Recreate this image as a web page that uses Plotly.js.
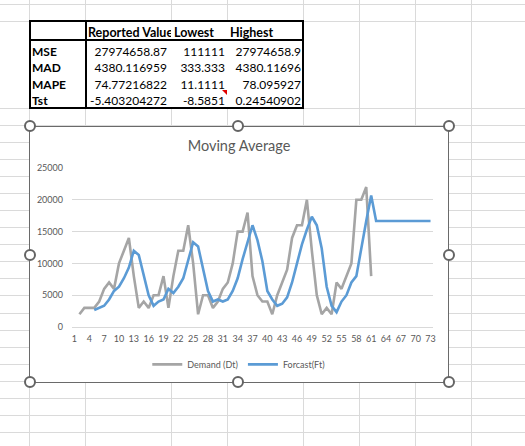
<!DOCTYPE html>
<html>
<head>
<meta charset="utf-8">
<script src="https://cdn.plot.ly/plotly-3.0.1.min.js"></script>
<style>
html,body{margin:0;padding:0;background:#fff;width:525px;height:446px;overflow:hidden;}
body{position:relative;font-family:Lato,"Liberation Sans",sans-serif;}
.gh{position:absolute;left:0;width:525px;height:1px;background:#dadada;}
.gv{position:absolute;top:0;width:1px;height:446px;background:#dadada;}
#table{position:absolute;left:29px;top:20px;width:275px;height:89px;background:#fff;border:2px solid #000;box-sizing:border-box;}
.cell{position:absolute;height:17px;font-size:12px;line-height:14px;color:#000;white-space:nowrap;overflow:hidden;display:flex;align-items:flex-end;}
.b{font-weight:bold;}
.hd{font-size:12.5px;}
.r{justify-content:flex-end;}
#chartbox{position:absolute;left:29px;top:126px;width:420px;height:257px;background:#fff;border:1px solid #6a6a6a;box-sizing:border-box;}
#chart{position:absolute;left:0;top:0;width:418px;height:255px;}
.handle{position:absolute;width:12px;height:12px;border-radius:50%;border:2px solid #646464;background:#fff;box-sizing:border-box;}
#comment{position:absolute;left:222px;top:90px;width:0;height:0;border-top:5px solid #e00000;border-left:5px solid transparent;}
</style>
</head>
<body>
<div id="grid"></div>
<div id="table"></div>
<div id="comment"></div>
<div id="chartbox"><div id="chart"></div></div>
<div id="handles"></div>
<script>
// ---------- data ----------
const rowLabels = ["MSE", "MAD", "MAPE", "Tst"];
const colHeaders = ["Reported Value", "Lowest", "Highest"];
const reportedValue = ["27974658.87", "4380.116959", "74.77216822", "-5.403204272"];
const lowestValue = ["111111", "333.333", "11.1111", "-8.5851"];
const highestValue = ["27974658.9", "4380.11696", "78.095927", "0.24540902"];

const periods = [1,2,3,4,5,6,7,8,9,10,11,12,13,14,15,16,17,18,19,20,21,22,23,24,25,26,27,28,29,30,31,32,33,34,35,36,37,38,39,40,41,42,43,44,45,46,47,48,49,50,51,52,53,54,55,56,57,58,59,60,61,62,63,64,65,66,67,68,69,70,71,72,73];
const demand = [null,2000,3000,3000,3000,4000,6000,7000,6000,10000,12000,14000,8000,
  3000,4000,3000,5000,5000,8000,3000,8000,12000,12000,16000,10000,
  2000,5000,5000,3000,4000,6000,7000,10000,15000,15000,18000,8000,
  5000,4000,4000,2000,5000,7000,9000,14000,16000,16000,20000,12000,
  5000,2000,3000,2000,7000,6000,8000,10000,20000,20000,22000,8000];
const forecast = [null,null,null,null,2666.67,3000,3333.33,4333.33,5666.67,6333.33,7666.67,9333.33,12000,
  11333.33,8333.33,5000,3333.33,4000,4333.33,6000,5333.33,6333.33,7666.67,10666.67,13333.33,
  12666.67,9333.33,5666.67,4000,4333.33,4000,4333.33,5666.67,7666.67,10666.67,13333.33,16000,
  13666.67,10333.33,5666.67,4333.33,3333.33,3666.67,4666.67,7000,10000,13000,15333.33,17333.33,
  16000,12333.33,6333.33,3333.33,2333.33,4000,5000,7000,8000,12666.67,16666.67,20666.67,
  16666.67,16666.67,16666.67,16666.67,16666.67,16666.67,16666.67,16666.67,16666.67,16666.67,16666.67,16666.67];
const xTickVals = [1,4,7,10,13,16,19,22,25,28,31,34,37,40,43,46,49,52,55,58,61,64,67,70,73];
const xTickText = ["1","4","7","10","13","16","19","22","25","28","31","34","37","40","43","46","49","52","55","58","61","64","67","70","73"];
const seriesNames = ["Demand (Dt)", "Forcast(Ft)"];
const chartTitle = "Moving Average";

// ---------- spreadsheet grid ----------
const grid = document.getElementById("grid");
const rowLines = [4, 21];
for (let y = 108; y < 446; y += 17.04) rowLines.push(y);
rowLines.forEach(y => { const d = document.createElement("div"); d.className = "gh"; d.style.top = y.toFixed(1) + "px"; grid.appendChild(d); });
[29, 85, 171, 227, 303, 359, 415, 471].forEach(x => { const d = document.createElement("div"); d.className = "gv"; d.style.left = x + "px"; grid.appendChild(d); });

// ---------- table ----------
const table = document.getElementById("table");
function addCell(left, top, width, text, cls) {
  const c = document.createElement("div");
  c.className = "cell " + cls;
  c.style.left = left + "px"; c.style.top = top + "px"; c.style.width = width + "px";
  c.textContent = text; table.appendChild(c);
}
function addLine(left, top, w, h) {
  const d = document.createElement("div");
  d.style.cssText = "position:absolute;background:#000;left:" + left + "px;top:" + top + "px;width:" + w + "px;height:" + h + "px;";
  table.appendChild(d);
}
addLine(54, -2, 2, 89);
addLine(-2, 17, 275, 2);
const colLeft = [56, 142, 198];
const colWidth = [84, 56, 74];
colHeaders.forEach((h, i) => addCell(colLeft[i] + 1, 1, colWidth[i] - 1, h, "b hd"));
const rowTop = [19.5, 36, 52.5, 69];
rowLabels.forEach((lab, i) => {
  addCell(1, rowTop[i], 50, lab, "b");
  addCell(colLeft[0], rowTop[i], colWidth[0] - 4, reportedValue[i], "r");
  addCell(colLeft[1], rowTop[i], colWidth[1] - 4, lowestValue[i], "r");
  addCell(colLeft[2], rowTop[i], colWidth[2] - 2, highestValue[i], "r");
});

// ---------- selection handles ----------
const handles = document.getElementById("handles");
[[29.5,126],[238,126],[448.5,126],[29.5,254.5],[448.5,254.5],[29.5,382],[238,382],[448.5,382]].forEach(p => {
  const h = document.createElement("div"); h.className = "handle";
  h.style.left = (p[0] - 6) + "px"; h.style.top = (p[1] - 6) + "px"; handles.appendChild(h);
});

// ---------- chart ----------
const font = "Lato, 'Liberation Sans', sans-serif";
const traces = [
  {x: periods.slice(0, demand.length), y: demand, name: seriesNames[0], type: "scatter", mode: "lines",
   line: {color: "#A5A5A5", width: 2.6}, connectgaps: false},
  {x: periods, y: forecast, name: seriesNames[1], type: "scatter", mode: "lines",
   line: {color: "#5B9BD5", width: 2.6}, connectgaps: false}
];
const layout = {
  width: 418, height: 255,
  margin: {l: 42, r: 15, t: 41, b: 55, pad: 0, autoexpand: false},
  paper_bgcolor: "#fff", plot_bgcolor: "#fff",
  font: {family: font, size: 9, color: "#595959"},
  title: {text: chartTitle, x: 0.5, xref: "container", xanchor: "center", y: 0.926, yref: "container", yanchor: "middle",
          font: {family: font, size: 14.5, color: "#595959"}},
  xaxis: {range: [0.5, 73.5], tickmode: "array", tickvals: xTickVals, ticktext: xTickText, tickangle: 0,
          showgrid: false, zeroline: false, showline: false, ticks: "", ticklabelstandoff: 5, automargin: false,
          tickfont: {family: font, size: 9, color: "#595959"}, fixedrange: true},
  yaxis: {range: [0, 25000], dtick: 5000, tickformat: "d", showgrid: true, gridcolor: "#d9d9d9", gridwidth: 1,
          zeroline: true, zerolinecolor: "#d9d9d9", zerolinewidth: 1, showline: false, ticks: "", automargin: false,
          ticklabelstandoff: 8, tickfont: {family: font, size: 9, color: "#595959"}, fixedrange: true},
  showlegend: true,
  legend: {orientation: "h", x: 0.462, xanchor: "center", y: -0.235, yanchor: "middle",
           font: {family: font, size: 9, color: "#595959"}, bgcolor: "rgba(0,0,0,0)", itemwidth: 30}
};
Plotly.newPlot("chart", traces, layout, {staticPlot: true, displayModeBar: false});
</script>
</body>
</html>
